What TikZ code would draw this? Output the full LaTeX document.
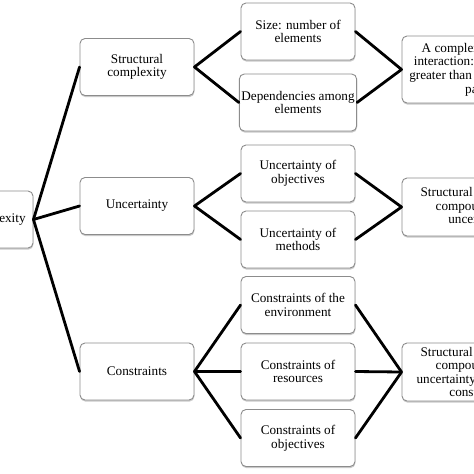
\documentclass[tikz,border=0pt]{standalone}
\usepackage{fontspec}
\setmainfont{Liberation Serif}
\usetikzlibrary{shadows}
\tikzset{
  box/.style={draw=black!45, line width=0.9pt, rounded corners=5pt, fill=white,
    align=center, inner sep=2pt, text=black,
    font=\fontsize{13.2}{13.6}\selectfont,
    drop shadow={shadow xshift=0.4pt, shadow yshift=-1.6pt, opacity=0.35, fill=black!60}},
  lvl/.style={box, minimum width=114pt, minimum height=57pt},
  conn/.style={line width=2.8pt, black, line cap=round, line join=round}
}
\begin{document}
\begin{tikzpicture}[x=1pt,y=-1pt]
\useasboundingbox (0,0) rectangle (474,474);
\clip (0,0) rectangle (474,474);
\fill[white] (0,0) rectangle (474,474);
% root
\node[box, minimum width=77pt, minimum height=57pt] (cx) at (-5.5,219.5) {Complexity};
% level 1
\node[lvl] (st) at (137,67) {Structural\\complexity};
\node[lvl] (un) at (137,206) {Uncertainty};
\node[lvl] (co) at (137,371.5) {Constraints};
% level 2
\node[lvl] (sz) at (298,31.5) {Size: number of\\elements};
\node[lvl] (dp) at (298,102.5) {Dependencies among\\elements};
\node[lvl] (uo) at (298,173.5) {Uncertainty of\\objectives};
\node[lvl] (um) at (298,239.5) {Uncertainty of\\methods};
\node[lvl] (ce) at (298,305) {Constraints of the\\environment};
\node[lvl] (cr) at (298,371.5) {Constraints of\\resources};
\node[lvl] (cb) at (298,438) {Constraints of\\objectives};
% right
\node[box, minimum width=152pt, minimum height=67pt] (ra) at (478,69.5)
  {A complex system of\\interaction: the whole is\\greater than the sum of its\\parts};
\node[box, minimum width=152pt, minimum height=58pt] (rb) at (478,207)
  {Structural complexity\\compounded by\\uncertainty};
\node[box, minimum width=152pt, minimum height=58pt] (rc) at (478,372)
  {Structural complexity\\compounded by\\uncertainty and also by\\constraints};
% connectors
\draw[conn] (st.west) -- (cx.east) -- (co.west);
\draw[conn] (cx.east) -- (un.west);
\draw[conn] (sz.west) -- (st.east) -- (dp.west);
\draw[conn] (uo.west) -- (un.east) -- (um.west);
\draw[conn] (ce.west) -- (co.east) -- (cb.west);
\draw[conn] (co.east) -- (cr.west);
\draw[conn] (sz.east) -- (ra.west) -- (dp.east);
\draw[conn] (uo.east) -- (rb.west) -- (um.east);
\draw[conn] (ce.east) -- (rc.west) -- (cb.east);
\draw[conn] (cr.east) -- (rc.west);
\end{tikzpicture}
\end{document}
